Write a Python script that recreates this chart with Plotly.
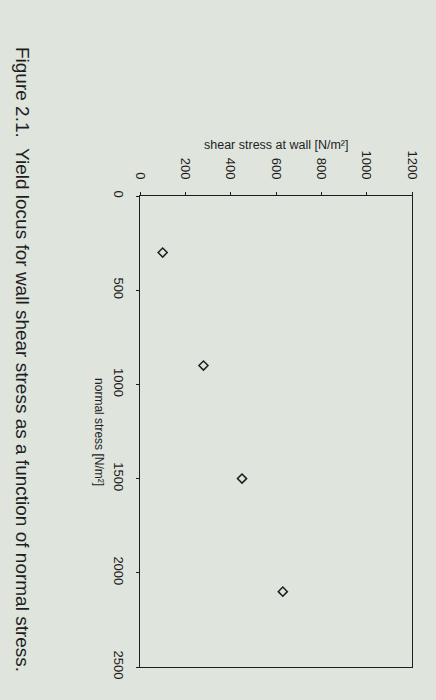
import plotly.graph_objects as go

# values read from the (rotated) photographed figure
normal_stress = [300, 900, 1500, 2100]   # N/m2
shear_stress = [100, 280, 450, 630]      # N/m2

shear_ticks = [0, 200, 400, 600, 800, 1000, 1200]
normal_ticks = [0, 500, 1000, 1500, 2000, 2500]

caption = "Figure 2.1.  Yield locus for wall shear stress as a function of normal stress."
shear_title = "shear stress at wall [N/m²]"
normal_title = "normal stress [N/m²]"

bg = "#dfe4dd"
ink = "#1e1e1e"
font = "Liberation Sans, Arial, sans-serif"

# the page is turned a quarter clockwise: shear runs across, normal runs down
fig = go.Figure(
    go.Scatter(
        x=shear_stress,
        y=normal_stress,
        mode="markers",
        marker=dict(symbol="diamond-open", size=7, color=ink, line=dict(width=1.5)),
        showlegend=False,
    )
)

fig.update_xaxes(
    range=[0, 1200],
    side="top",
    tickvals=shear_ticks,
    tickangle=90,
    ticks="outside",
    ticklen=3,
    tickcolor=ink,
    showline=True,
    linecolor=ink,
    linewidth=1,
    mirror=True,
    showgrid=False,
    zeroline=False,
    tickfont=dict(family=font, size=13, color=ink),
    ticklabelstandoff=8,
)
fig.update_yaxes(
    range=[2500, 0],
    tickvals=normal_ticks,
    tickangle=90,
    ticks="outside",
    ticklen=3,
    tickcolor=ink,
    showline=True,
    linecolor=ink,
    linewidth=1,
    mirror=True,
    showgrid=False,
    zeroline=False,
    tickfont=dict(family=font, size=13, color=ink),
    ticklabelstandoff=6,
)

fig.add_annotation(
    text=shear_title, xref="paper", yref="paper", x=0.5, y=1.108,
    showarrow=False, xanchor="center", yanchor="middle",
    font=dict(family=font, size=12.5, color=ink),
)
fig.add_annotation(
    text=normal_title, xref="paper", yref="paper", x=-0.151, y=0.499,
    textangle=90, showarrow=False, xanchor="center", yanchor="middle",
    font=dict(family=font, size=12, color=ink),
)
fig.add_annotation(
    text=caption, xref="paper", yref="paper", x=-0.434, y=0.652,
    textangle=90, showarrow=False, xanchor="center", yanchor="middle",
    font=dict(family=font, size=19, color=ink),
)

fig.update_layout(
    width=436,
    height=700,
    margin=dict(l=140, r=24, t=196, b=33),
    paper_bgcolor=bg,
    plot_bgcolor=bg,
)

fig.write_html(
    "out.html",
    config={"displayModeBar": False},
    post_script="document.body.style.margin='0';document.body.style.background='%s';" % bg,
)
